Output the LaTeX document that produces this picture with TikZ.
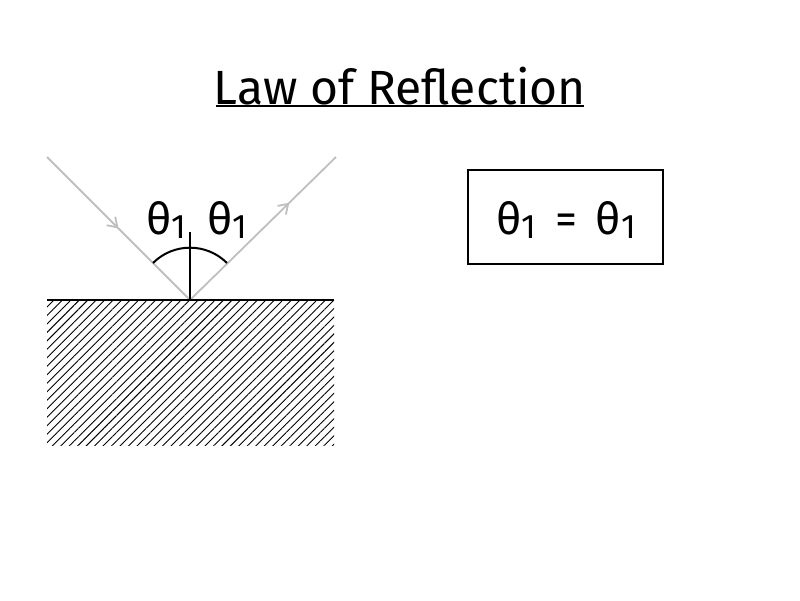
\documentclass[tikz,border=0pt]{standalone}
\usepackage{fontspec}
\setmainfont{Fira Sans}
\usetikzlibrary{patterns.meta,decorations.markings,arrows.meta}
\newcommand{\sub}[1]{\raisebox{-4pt}{\fontsize{34}{36}\selectfont #1}}
\begin{document}
\begin{tikzpicture}[x=1pt,y=-1pt,
  ray/.style={draw=black!25,line width=1.8pt,postaction=decorate,
    decoration={markings,mark=at position #1 with {\arrow{Straight Barb[length=9pt,width=12pt,line width=1.8pt]}}}},
  lbl/.style={font=\fontsize{44}{46}\selectfont,inner sep=0pt}]
\useasboundingbox (0,0) rectangle (800,600);
\node[font=\fontsize{48}{52}\selectfont,inner sep=0pt] (title) at (400,86) {Law of Reflection};
\draw[line width=2pt] (216,106) -- (584,106);
\fill[pattern={Lines[angle=45,distance=6pt,line width=0.9pt]}] (47,300) rectangle (334,445);
\coordinate (o) at (190,300);
\coordinate (a) at (47,157);
\coordinate (b) at (336,157);
\coordinate (n) at (190,232);
\coordinate (l) at (47,300);
\coordinate (r) at (334,300);
\draw[ray=0.5] (a) -- (o);
\draw[ray=0.68] (o) -- (b);
\draw[line width=2pt] (l) -- (r);
\draw[line width=2pt] (o) -- (n);
\draw[line width=2pt] (153,263) arc[start angle=225,end angle=315,radius=52.3];
\node[lbl] (t1) at (166,220) {θ\sub{1}};
\node[lbl] (t2) at (227,220) {θ\sub{1}};
\node[draw,line width=1.5pt,minimum width=195pt,minimum height=94pt,inner sep=0pt] (box) at (565.5,217) {};
\node[lbl] (eq) at (566,220) {θ\sub{1} \,=\, θ\sub{1}};
\end{tikzpicture}
\end{document}
